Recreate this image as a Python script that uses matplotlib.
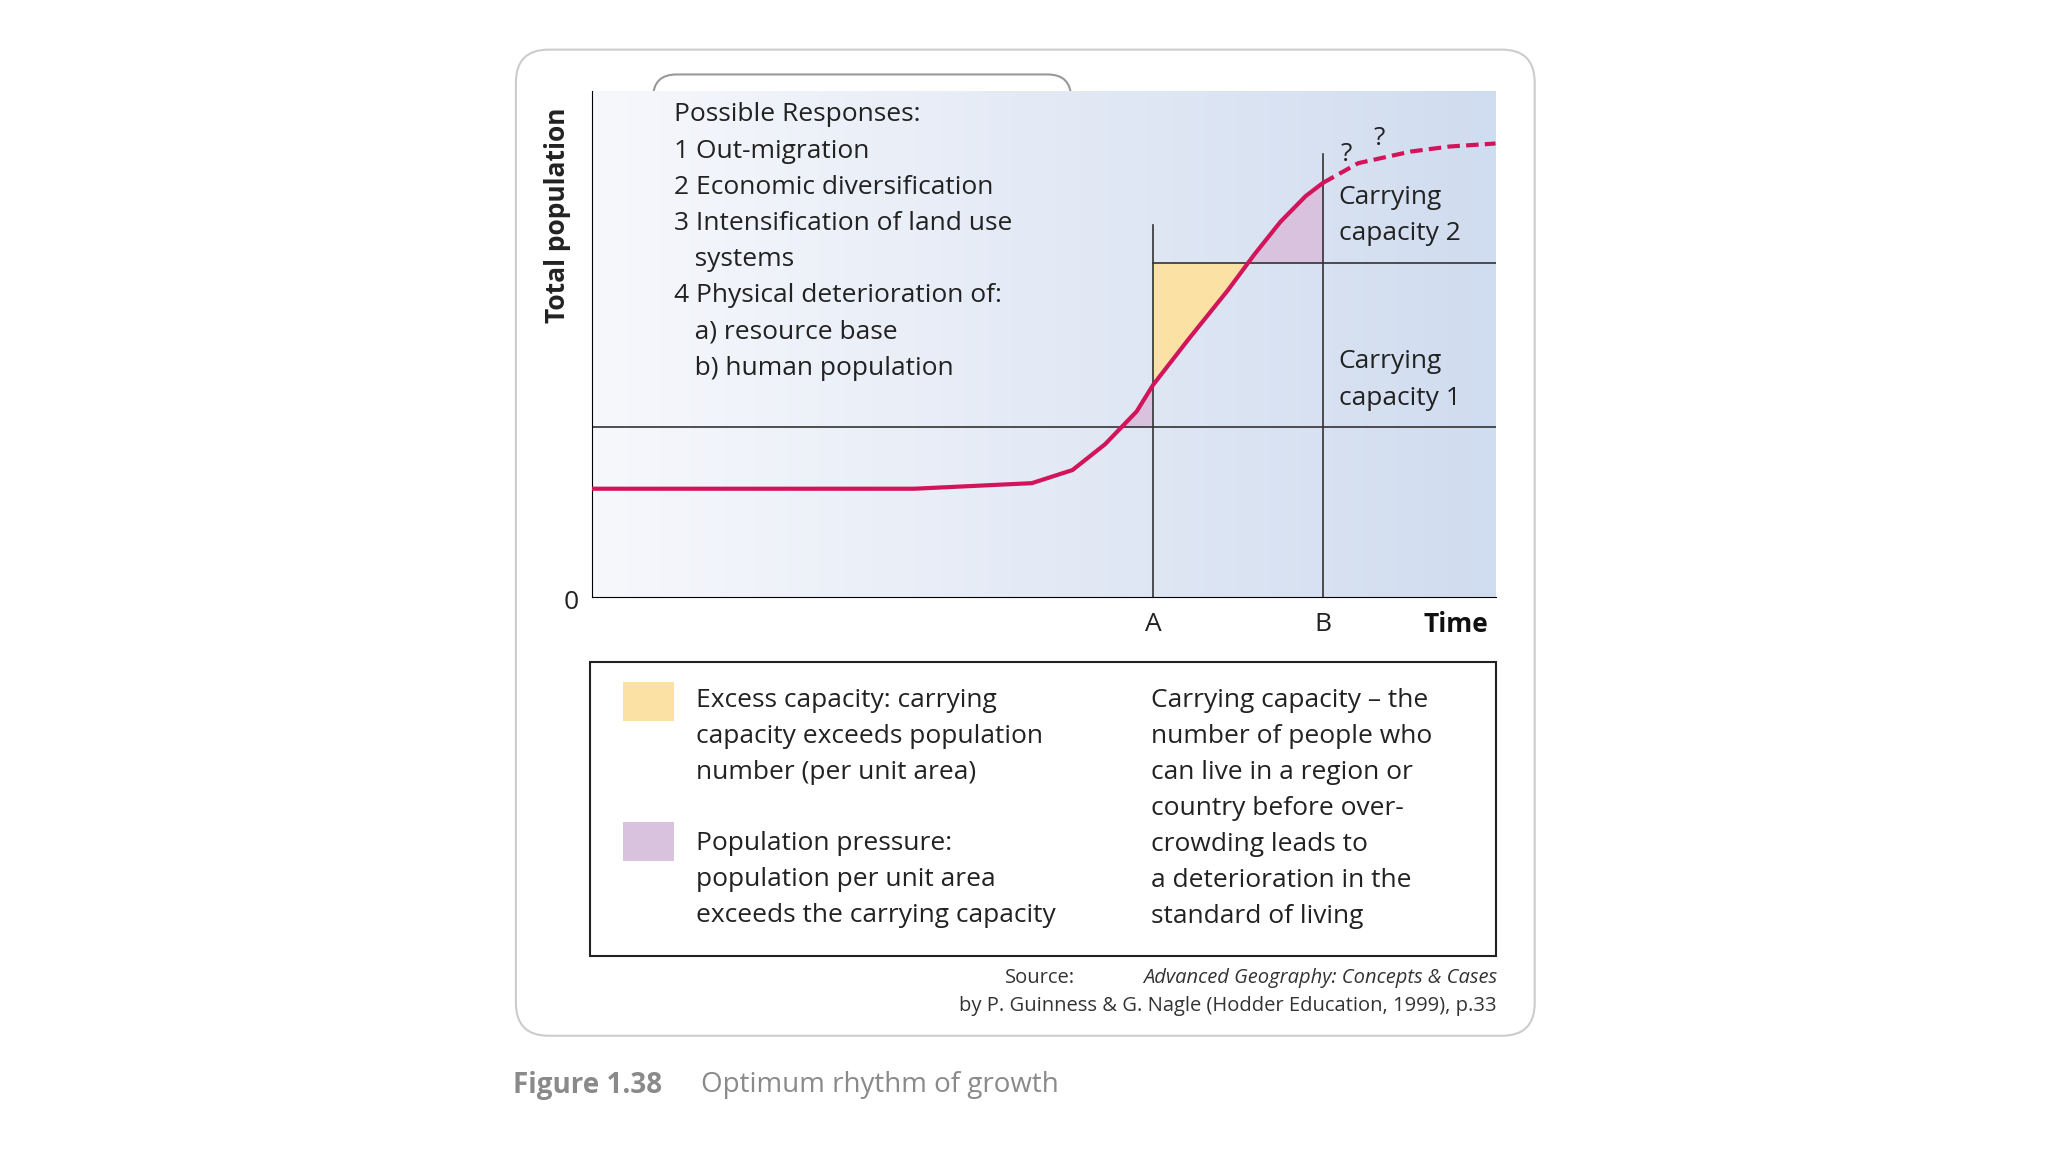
import matplotlib.pyplot as plt
import numpy as np
from matplotlib.patches import FancyBboxPatch, Rectangle

plt.rcParams['font.family'] = ['Open Sans', 'DejaVu Sans']

# curve (time, population) in 0..100 units
time_solid = [0, 35.7, 48.7, 53.2, 56.8, 60.3, 62.1, 66.0, 70.4, 73.3, 76.2, 79.0, 80.9]
pop_solid = [21.4, 21.4, 22.5, 25.1, 30.2, 36.7, 41.9, 50.9, 60.7, 67.7, 74.2, 79.3, 81.9]
time_dashed = [80.9, 84.8, 90.6, 94.9, 100]
pop_dashed = [81.9, 85.8, 88.1, 89.1, 89.7]
time_a, time_b = 62.1, 80.9
cc1, cc2 = 33.6, 66.1

responses = ["Possible Responses:", "1 Out-migration", "2 Economic diversification",
             "3 Intensification of land use", "   systems", "4 Physical deterioration of:",
             "   a) resource base", "   b) human population"]

W, H = 1568, 882
def f(x, y):
    return x / W, 1 - y / H

crimson = '#d2145a'
yellow = '#fbe1a3'
purple = '#d8c2de'
fs = 19

fig = plt.figure(figsize=(20.48, 11.52), dpi=100)
bg = fig.add_axes([0, 0, 1, 1])
bg.set_xlim(0, W); bg.set_ylim(H, 0); bg.axis('off')
bg.add_patch(FancyBboxPatch((395, 38), 780, 755, boxstyle="round,pad=0,rounding_size=25",
                            fc='white', ec='#cccccc', lw=1.5))
bg.add_patch(Rectangle((452, 507), 693, 225, fc='white', ec='#222222', lw=1.5))

ax = fig.add_axes([453 / W, 1 - 457 / H, 692 / W, 387 / H])
ax.set_xlim(0, 100); ax.set_ylim(0, 100)
grad = np.linspace(0, 1, 256).reshape(1, -1)
ax.imshow(grad, extent=[0, 100, 0, 100], aspect='auto', zorder=0,
          cmap=plt.matplotlib.colors.LinearSegmentedColormap.from_list('g', ['#f7f8fc', '#d0dcef']))
for s in ['top', 'right']:
    ax.spines[s].set_visible(False)
ax.set_xticks([]); ax.set_yticks([])

xs = np.linspace(0, time_b, 600)
ys = np.interp(xs, time_solid, pop_solid)
ax.fill_between(xs, ys, cc2, where=(xs >= time_a) & (ys < cc2), color=yellow, lw=0, zorder=1)
ax.fill_between(xs, cc1, ys, where=(xs <= time_a) & (ys > cc1), color=purple, lw=0, zorder=1)
ax.fill_between(xs, cc2, ys, where=(ys > cc2), color=purple, lw=0, zorder=1)

ax.plot([0, 100], [cc1, cc1], color='#333333', lw=1.2, zorder=2)
ax.plot([time_a, 100], [cc2, cc2], color='#333333', lw=1.2, zorder=2)
ax.plot([time_a, time_a], [0, 73.6], color='#333333', lw=1.2, zorder=2)
ax.plot([time_b, time_b], [0, 87.6], color='#333333', lw=1.2, zorder=2)
ax.plot(time_solid, pop_solid, color=crimson, lw=3, zorder=3, solid_capstyle='round')
ax.plot(time_dashed, pop_dashed, color=crimson, lw=3, ls=(0, (3, 1.5)), zorder=3)

# response box
bg.add_patch(FancyBboxPatch((500, 57), 320, 250, boxstyle="round,pad=0,rounding_size=18",
                            fc='white', ec='#999999', lw=1.5, zorder=5))
for i, line in enumerate(responses):
    fig.text(*f(516, 88 + i * 27.7), line, fontsize=fs, va='center', color='#222222', zorder=6)
bg.annotate('', xy=(985, 172), xytext=(823, 121),
            arrowprops=dict(arrowstyle='-|>', color='#222222', lw=1.5, mutation_scale=18))
bg.annotate('', xy=(874, 315), xytext=(822, 281),
            arrowprops=dict(arrowstyle='-|>', color='#222222', lw=1.5, mutation_scale=18))

fig.text(*f(427, 165), "Total population", rotation=90, fontsize=fs, fontweight='bold',
         ha='center', va='center', color='#222222')
fig.text(*f(437, 461), "0", fontsize=fs, ha='center', va='center', color='#222222')
fig.text(*f(883, 478), "A", fontsize=fs, ha='center', va='center', color='#222222')
fig.text(*f(1013, 478), "B", fontsize=fs, ha='center', va='center', color='#222222')
fig.text(*f(1115, 478), "Time", fontsize=fs, fontweight='bold', ha='center', va='center', color='#111111')
fig.text(*f(1031, 118), "?", fontsize=fs, ha='center', va='center', color='#222222')
fig.text(*f(1056, 106), "?", fontsize=fs, ha='center', va='center', color='#222222')
for y, t in [(151, "Carrying"), (179, "capacity 2"), (277, "Carrying"), (305, "capacity 1")]:
    fig.text(*f(1025, y), t, fontsize=fs, va='center', color='#222222')

# legend
bg.add_patch(Rectangle((477, 522), 39, 30, fc=yellow, ec='none'))
bg.add_patch(Rectangle((477, 629), 39, 30, fc=purple, ec='none'))
left = ["Excess capacity: carrying", "capacity exceeds population", "number (per unit area)"]
left2 = ["Population pressure:", "population per unit area", "exceeds the carrying capacity"]
right = ["Carrying capacity \u2013 the", "number of people who", "can live in a region or",
         "country before over-", "crowding leads to", "a deterioration in the", "standard of living"]
for i, t in enumerate(left):
    fig.text(*f(533, 536 + i * 27.6), t, fontsize=fs, va='center', color='#222222')
for i, t in enumerate(left2):
    fig.text(*f(533, 646 + i * 27.6), t, fontsize=fs, va='center', color='#222222')
for i, t in enumerate(right):
    fig.text(*f(881, 536 + i * 27.6), t, fontsize=fs, va='center', color='#222222')

fig.text(*f(823, 749), "Source:", fontsize=14.5, ha='right', va='center', color='#333333')
fig.text(*f(1146, 749), "Advanced Geography: Concepts & Cases", fontsize=14.5, style='italic',
         ha='right', va='center', color='#333333')
fig.text(*f(1146, 770), "by P. Guinness & G. Nagle (Hodder Education, 1999), p.33",
         fontsize=14.5, ha='right', va='center', color='#333333')
fig.text(*f(393, 831), "Figure 1.38", fontsize=20, fontweight='bold', va='center', color='#8a8a8a')
fig.text(*f(537, 831), "Optimum rhythm of growth", fontsize=20, va='center', color='#8a8a8a')

fig.savefig('out.png', dpi=100)
